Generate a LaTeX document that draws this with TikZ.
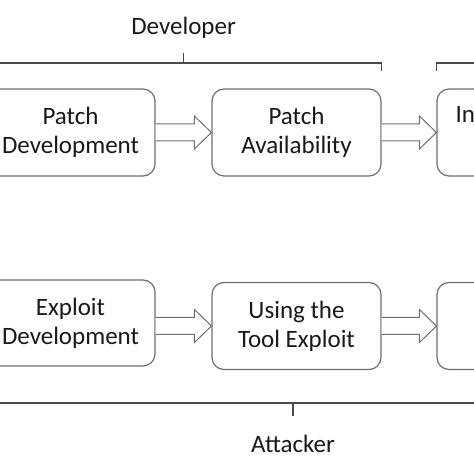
\documentclass[tikz,border=0pt]{standalone}
\usepackage{fontspec}
\setmainfont{Carlito}
\usetikzlibrary{calc}
\definecolor{boxgray}{HTML}{6E6E6E}
\definecolor{linegray}{HTML}{4A4A4A}
\tikzset{
	stage/.style={draw=boxgray, line width=1.2pt, rounded corners=12pt, fill=white,
		minimum width=169pt, minimum height=87pt, align=center, text=black!90,
		font=\fontsize{25}{29}\selectfont},
	fat/.style={draw=boxgray, line width=1pt, fill=white},
	brace/.style={draw=linegray, line width=1.2pt},
	who/.style={anchor=base, text=black!90, font=\fontsize{25}{29}\selectfont},
}

\begin{document}
\begin{tikzpicture}[x=1pt,y=1pt]
	\useasboundingbox (0,0) rectangle (474,474);
	\clip (0,0) rectangle (474,474);

	% developer side
	\node[stage] (pd) at (70.5,341.5) {Patch\\Development};
	\node[stage] (pa) at (296.5,341.5) {Patch\\Availability};
	\node[stage] (ip) at (521.5,341.5) {\hspace*{7pt}Installation of\\\strut};

	% attacker side
	\node[stage, minimum height=86pt] (ed) at (70.5,151) {Exploit\\Development};
	\node[stage] (ut) at (296.5,148) {Using the\\Tool Exploit};
	\node[stage] (rx) at (521.5,148) {};

	\foreach \a/\b in {pd/pa, pa/ip, ed/ut, ut/rx}
		\draw[fat] ($(\a.east |- \b.west)+(0,8.5)$) -- ($(\b.west)+(-17,8.5)$) -- ($(\b.west)+(-17,16.5)$)
			-- (\b.west) -- ($(\b.west)+(-17,-16.5)$) -- ($(\b.west)+(-17,-8.5)$) -- ($(\a.east |- \b.west)+(0,-8.5)$);

	% braces
	\coordinate (dl) at ($(pd.west)+(0,69.5)$);
	\coordinate (dr) at ($(pa.east)+(0,69.5)$);
	\coordinate (dm) at (183.5,411);
	\draw[brace] ($(dl)+(0,-8)$) -- (dl) -- (dr) -- ($(dr)+(0,-8)$);
	\draw[brace] (dm) -- ++(0,10);
	\draw[brace] ($(ip.west)+(0,61.5)$) -- ($(ip.west)+(0,69.5)$) -- ($(ip.east)+(0,69.5)$);

	\coordinate (al) at ($(ed.west)+(0,-80)$);
	\coordinate (ar) at ($(rx.east)+(0,-77)$);
	\coordinate (am) at (293,71);
	\draw[brace] ($(al)+(0,8)$) -- (al) -- (ar) -- ($(ar)+(0,8)$);
	\draw[brace] (am) -- ++(0,-13);

	\node[who] (dev) at (183.5,439) {Developer};
	\node[who] (att) at (293,21) {Attacker};
\end{tikzpicture}
\end{document}
